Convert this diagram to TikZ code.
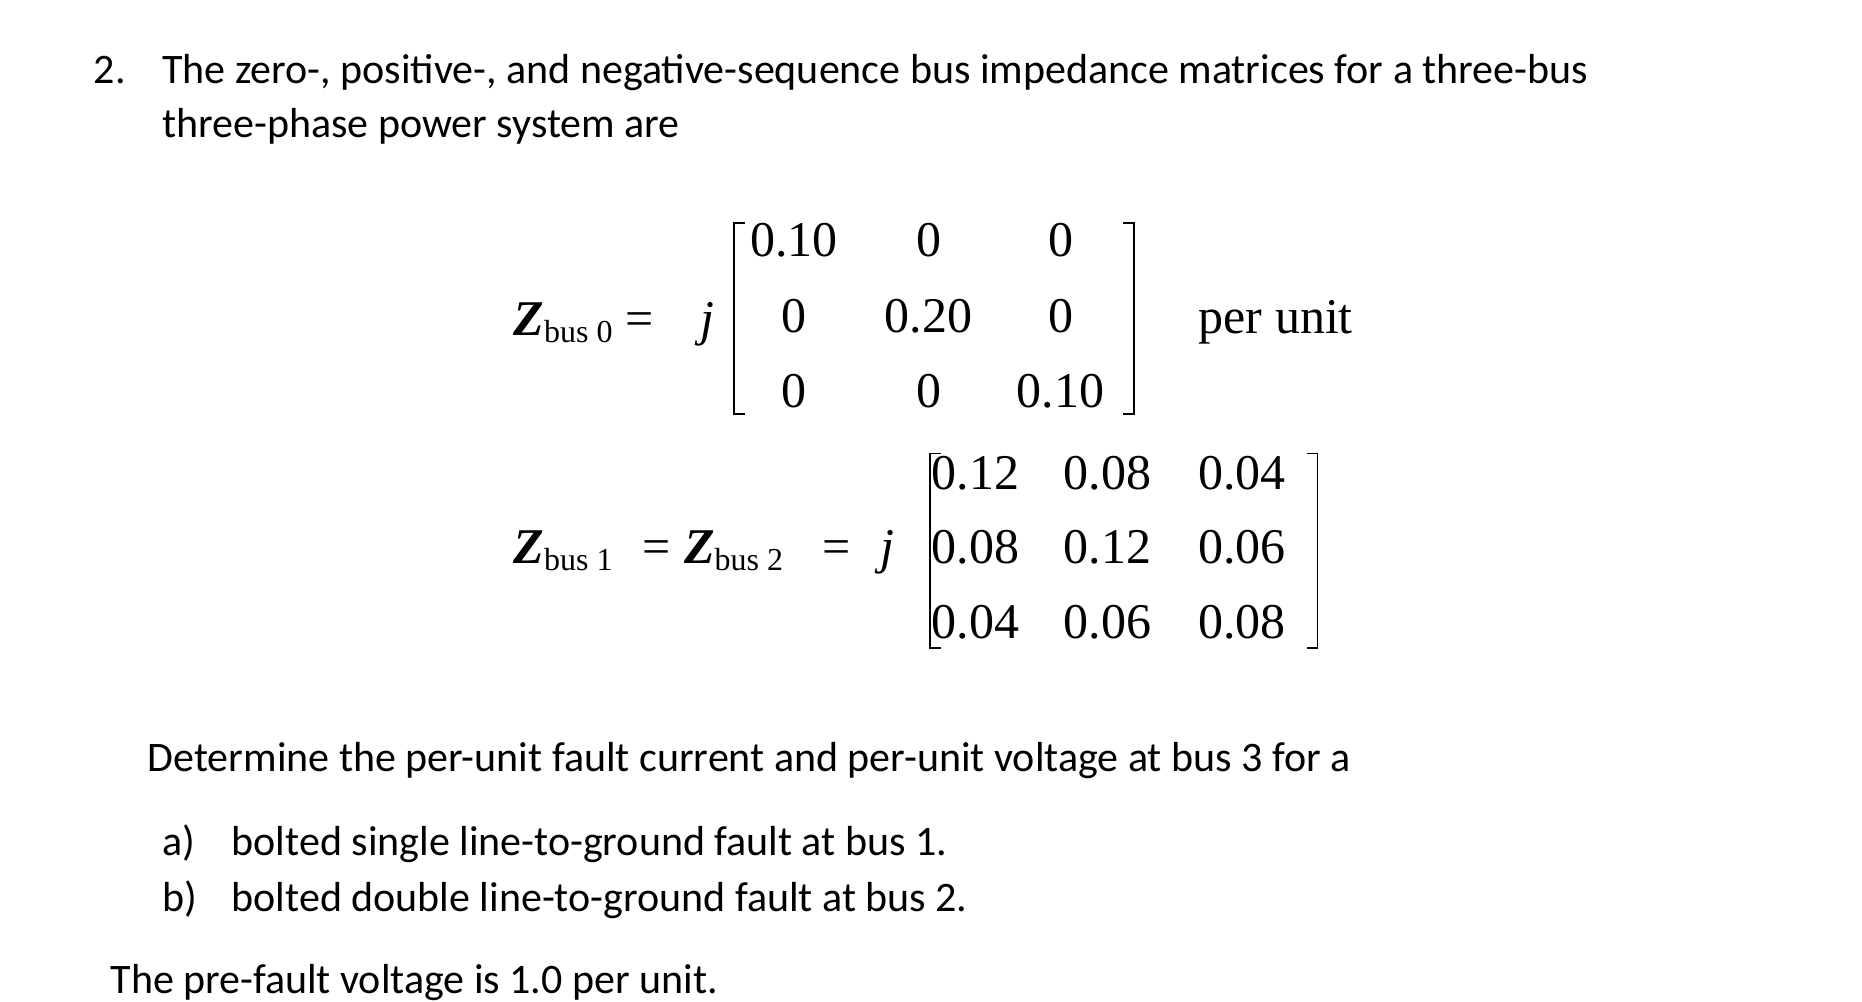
\documentclass[tikz,border=0pt]{standalone}
\usepackage{fontspec}
\setmainfont{Carlito}
\newfontfamily\tms{Liberation Serif}
\begin{document}
\begin{tikzpicture}[x=1.2pt,y=-1.2pt,
  txt/.style={anchor=base west,inner sep=0pt,font=\fontsize{42}{44}\selectfont},
  mth/.style={anchor=base,inner sep=0pt,font=\tms\fontsize{50}{52}\selectfont},
  zlab/.style={anchor=base west,inner sep=0pt,font=\tms\fontsize{50}{52}\selectfont},
  brk/.style={line width=1.6pt}]
\useasboundingbox[fill=white] (0,0) rectangle (1552,835);
\node[txt] (n2) at (78,70) {2.};
\node[txt] (l1) at (135,70) {The zero-, positive-, and negative-sequence bus impedance matrices for a three-bus};
\node[txt] (l2) at (135,115) {three-phase power system are};
% matrix 0
\node[zlab] (z0) at (428,280) {\textbf{\textit{Z}}\raisebox{-0.3ex}{\fontsize{32}{34}\selectfont bus 0}};
\node[mth] (e0) at (533,280) {=};
\node[zlab] (j0) at (584,280) {\textit{j}};
\node[mth] (a11) at (662,214) {0.10};
\node[mth] (a12) at (774,214) {0};
\node[mth] (a13) at (884,214) {0};
\node[mth] (a21) at (662,277) {0};
\node[mth] (a22) at (774,277) {0.20};
\node[mth] (a23) at (884,277) {0};
\node[mth] (a31) at (662,340) {0};
\node[mth] (a32) at (774,340) {0};
\node[mth] (a33) at (884,340) {0.10};
\draw[brk] (621,186) -- (612,186) -- (612,345) -- (621,345);
\draw[brk] (936,186) -- (945,186) -- (945,345) -- (936,345);
\node[zlab] (pu) at (999,278) {per unit};
% matrix 1
\node[zlab] (z1) at (428,470) {\textbf{\textit{Z}}\raisebox{-0.3ex}{\fontsize{32}{34}\selectfont bus 1}};
\node[mth] (e1) at (547,470) {=};
\node[zlab] (z2) at (570,470) {\textbf{\textit{Z}}\raisebox{-0.3ex}{\fontsize{32}{34}\selectfont bus 2}};
\node[mth] (e2) at (697,470) {=};
\node[zlab] (j1) at (734,470) {\textit{j}};
\node[mth] (b11) at (813,408) {0.12};
\node[mth] (b12) at (923,408) {0.08};
\node[mth] (b13) at (1035,408) {0.04};
\node[mth] (b21) at (813,470) {0.08};
\node[mth] (b22) at (923,470) {0.12};
\node[mth] (b23) at (1035,470) {0.06};
\node[mth] (b31) at (813,532) {0.04};
\node[mth] (b32) at (923,532) {0.06};
\node[mth] (b33) at (1035,532) {0.08};
\draw[brk] (784,378) -- (775,378) -- (775,540) -- (784,540);
\draw[brk] (1089,378) -- (1098,378) -- (1098,540) -- (1089,540);
\node[txt] (d) at (123,643) {Determine the per-unit fault current and per-unit voltage at bus 3 for a};
\node[txt] (qa) at (135,713) {a)};
\node[txt] (ta) at (193,713) {bolted single line-to-ground fault at bus 1.};
\node[txt] (qb) at (135,760) {b)};
\node[txt] (tb) at (193,760) {bolted double line-to-ground fault at bus 2.};
\node[txt] (pf) at (92,828) {The pre-fault voltage is 1.0 per unit.};
\end{tikzpicture}
\end{document}
